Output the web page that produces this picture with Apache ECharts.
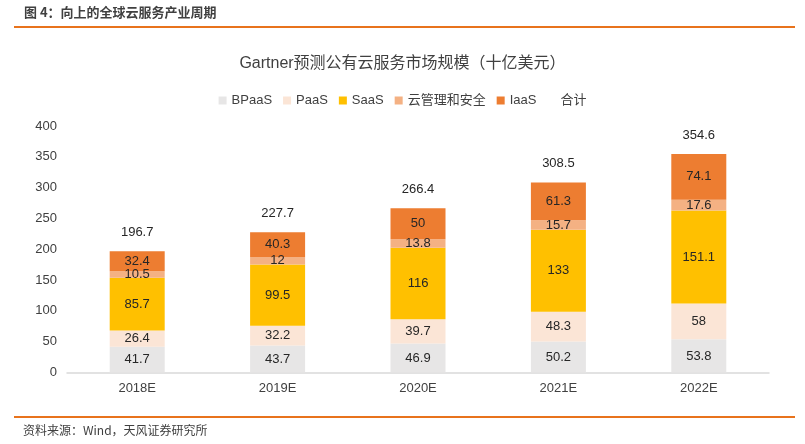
<!DOCTYPE html>
<html>
<head>
<meta charset="utf-8">
<script src="https://cdn.jsdelivr.net/npm/echarts@6/dist/echarts.min.js"></script>
<style>
  html, body { margin: 0; padding: 0; background: #fff; }
  #chart { width: 805px; height: 444px; }
</style>
</head>
<body>
<div id="chart"></div>
<script>
// 年份
const years = ['2018E', '2019E', '2020E', '2021E', '2022E'];
// 各细分市场（十亿美元）
const bpaas = [41.7, 43.7, 46.9, 50.2, 53.8];
const paas = [26.4, 32.2, 39.7, 48.3, 58];
const saas = [85.7, 99.5, 116, 133, 151.1];
const security = [10.5, 12, 13.8, 15.7, 17.6];
const iaas = [32.4, 40.3, 50, 61.3, 74.1];
const totals = [196.7, 227.7, 266.4, 308.5, 354.6];
const yTicks = [0, 400, 50];

const font = 'Liberation Sans, "Noto Sans CJK SC", sans-serif';
const cjk = '"Noto Sans CJK SC", "Liberation Sans", sans-serif';

function part(name, data, color) {
  return {
    name: name,
    type: 'bar',
    stack: 'total',
    barWidth: 55,
    data: data,
    itemStyle: { color: color },
    label: {
      show: true,
      position: 'inside',
      color: '#262626',
      fontSize: 13,
      fontFamily: font
    }
  };
}

const chart = echarts.init(document.getElementById('chart'));
chart.setOption({
  animation: false,
  textStyle: { fontFamily: cjk },
  title: {
    text: 'Gartner预测公有云服务市场规模（十亿美元）',
    left: 'center',
    top: 51,
    textStyle: { fontSize: 16, fontWeight: 'normal', color: '#404040', fontFamily: font }
  },
  legend: {
    top: 89,
    left: 'center',
    itemWidth: 8,
    itemHeight: 8,
    itemGap: 11,
    textStyle: { fontSize: 13, color: '#404040', fontFamily: font },
    data: [
      { name: 'BPaaS', icon: 'rect' },
      { name: 'PaaS', icon: 'rect' },
      { name: 'SaaS', icon: 'rect' },
      { name: '云管理和安全', icon: 'rect' },
      { name: 'IaaS', icon: 'rect' },
      { name: '合计', icon: 'rect', itemStyle: { color: 'rgba(0,0,0,0)' } }
    ]
  },
  grid: { left: 67, right: 36, top: 126, bottom: 71.5 },
  xAxis: {
    type: 'category',
    data: years,
    axisLine: { lineStyle: { color: '#d9d9d9', width: 1.5 } },
    axisTick: { show: false },
    axisLabel: { color: '#404040', fontSize: 13, margin: 9, fontFamily: font }
  },
  yAxis: {
    type: 'value',
    min: yTicks[0],
    max: yTicks[1],
    interval: yTicks[2],
    splitLine: { show: false },
    axisLine: { show: false },
    axisTick: { show: false },
    axisLabel: { color: '#404040', fontSize: 13, margin: 10, fontFamily: font }
  },
  series: [
    part('BPaaS', bpaas, '#E7E6E6'),
    part('PaaS', paas, '#FBE5D6'),
    part('SaaS', saas, '#FFC000'),
    part('云管理和安全', security, '#F4B183'),
    part('IaaS', iaas, '#ED7D31'),
    {
      name: '合计',
      type: 'bar',
      barWidth: 55,
      barGap: '-100%',
      data: totals,
      itemStyle: { color: 'rgba(0,0,0,0)' },
      label: {
        show: true,
        position: 'top',
        distance: 12,
        color: '#262626',
        fontSize: 13,
        fontFamily: font
      }
    }
  ],
  graphic: [
    {
      type: 'text', left: 24, top: 6,
      style: { text: '图 4：向上的全球云服务产业周期', fill: '#404040', font: 'bold 13px "Noto Sans CJK SC"' }
    },
    {
      type: 'rect', shape: { x: 14, y: 26, width: 781, height: 2 },
      style: { fill: '#E8731C' }
    },
    {
      type: 'rect', shape: { x: 14, y: 416, width: 781, height: 2 },
      style: { fill: '#E8731C' }
    },
    {
      type: 'text', left: 23, top: 424,
      style: { text: '资料来源：Wind，天风证券研究所', fill: '#404040', font: '12px "Noto Sans CJK SC"' }
    }
  ]
});
</script>
</body>
</html>
